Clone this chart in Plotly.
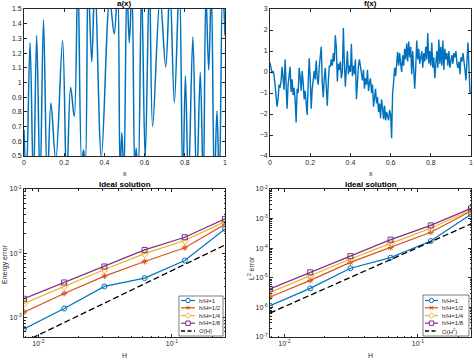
import numpy as np
import plotly.graph_objects as go

W, HGT = 474, 360
FONT = "Liberation Sans, Arial, sans-serif"
AX = "#262626"
C1, C2, C3, C4 = "#0072BD", "#D95319", "#EDB120", "#7E2F8E"
DASH = "6px,3px"

# ---------------- data ----------------
# a(x): local extrema (curve is clipped by the axis range)
a_x = [0.0, 0.012, 0.03, 0.047, 0.063, 0.08, 0.097, 0.116, 0.134, 0.158,
       0.192, 0.212, 0.232, 0.25, 0.268, 0.287, 0.296, 0.305, 0.319, 0.337,
       0.353, 0.385, 0.426, 0.449, 0.466, 0.478, 0.487, 0.497, 0.512, 0.524,
       0.537, 0.551, 0.558, 0.568, 0.585, 0.603, 0.624, 0.64, 0.677, 0.705,
       0.726, 0.748, 0.773, 0.79, 0.803, 0.818, 0.84, 0.859, 0.877, 0.892,
       0.905, 0.919, 0.932, 0.947, 0.96, 0.972, 0.988, 1.0]
a_y = [0.68, 0.35, 1.27, 0.3, 1.32, 0.3, 1.425, 0.3, 0.86, 0.47,
       1.285, 0.3, 0.967, 0.768, 1.75, 0.45, 0.54, 0.45, 1.7, 1.14,
       1.7, 0.49, 1.56, 1.33, 1.65, 0.4, 0.66, 0.35, 1.65, 1.27,
       1.65, 0.4, 0.555, 0.35, 1.65, 0.48, 1.7, 0.70, 1.58, 1.105,
       1.65, 0.863, 1.7, 0.3, 1.044, 0.3, 1.31, 0.3, 1.07, 0.3,
       1.6, 1.085, 1.65, 0.3, 0.806, 0.3, 1.65, 1.32]

# f(x): values read at steps of 0.005
f_y = [0.45, 0.2, -0.05, 0.05, -0.15, -0.6, -1.2, -1.65, -1.3, -0.6,
       -0.75, -0.45, 0.25, -0.3, -0.85, 0.6, -0.4, -1.75, -0.6, -0.1,
       0.25, -0.95, -0.35, -1.1, -0.75, -1.3, -2.4, -0.8, -1.0, 0.2,
       -0.2, -0.9, 0.05, -0.5, -1.3, -0.9, -1.55, -2.05, -0.6, 0.65,
       -0.3, -1.75, -0.8, -0.2, 0.05, -0.35, 0.55, -0.3, -0.6, 0.25,
       0.6, 1.2, -0.5, -1.2, -0.3, 0.2, -0.7, -1.6, -0.5, 0.3,
       0.25, 0.6, 0.3, 0.9, 0.5, 1.75, 1.2, -0.45, 0.4, 0.1,
       0.5, -0.3, 0.0, 2.1, 0.4, -0.7, 0.2, 1.0, -0.1, 0.3,
       0.0, 1.35, -0.2, 0.3, -0.1, 0.6, -1.3, -0.2, 0.3, 0.6,
       0.2, 0.0, -0.4, 0.1, -0.8, -0.3, -0.6, 0.1, -0.9, -0.5,
       -0.3, -1.0, -0.6, -1.65, -1.1, -0.8, -1.5, -1.2, -1.9, -1.5,
       -2.2, -1.3, -1.7, -2.25, -1.6, -2.3, -1.9, -2.1, -2.3, -1.8,
       -2.0, -3.15, -1.0, -0.5, 0.2, -0.2, 0.6, 0.95, 0.3, 0.9,
       0.4, 0.0, 0.8, 0.3, 1.1, 0.6, 1.35, 0.5, 1.45, 0.7,
       1.2, -0.1, 1.0, 0.3, -0.8, 0.2, 1.5, 0.6, 1.1, 0.4,
       0.8, 1.0, 0.2, 0.9, 0.5, 1.2, 0.6, 1.85, 0.4, 1.0,
       0.3, 1.4, 0.2, 0.7, -0.3, 0.6, 1.0, 0.2, 1.55, 0.4,
       1.2, 0.3, 1.5, 0.1, 1.1, 0.6, 0.9, 0.3, 1.0, 0.2,
       0.6, 0.8, 0.4, 0.9, 0.7, 1.0, 0.4, 0.2, 0.5, -0.1,
       0.7, 0.5, 0.9, 0.3, 0.1, -0.4, 0.3, 1.4, 0.2, -1.0,
       -1.0]
f_x = np.linspace(0, 1, len(f_y))

H_vals = [1/128, 1/64, 1/32, 1/16, 1/8, 1/4]
labels = ["h/H=1", "h/H=1/2", "h/H=1/4", "h/H=1/8"]

e1 = [6.7e-4, 1.39e-3, 3.06e-3, 4.12e-3, 7.75e-3, 0.024]
e2 = [1.22e-3, 2.38e-3, 4.43e-3, 7.47e-3, 0.0122, 0.0283]
e4 = [1.67e-3, 3.1e-3, 5.6e-3, 9.9e-3, 0.0158, 0.0311]
e8 = [1.97e-3, 3.53e-3, 6.25e-3, 0.0113, 0.0178, 0.0343]
e_ref = [4.2e-4, 8.4e-4, 1.69e-3, 3.38e-3, 6.75e-3, 0.0135]

l1 = [1.14e-6, 4.4e-6, 2.1e-5, 4.8e-5, 1.75e-4, 1.4e-3]
l2 = [2.24e-6, 8.2e-6, 3.33e-5, 1.05e-4, 3.44e-4, 1.81e-3]
l4 = [3.2e-6, 1.17e-5, 4.3e-5, 1.46e-4, 4.7e-4, 2.0e-3]
l8 = [4.2e-6, 1.53e-5, 5.4e-5, 1.94e-4, 5.9e-4, 2.22e-3]
l_ref = [6.45e-7, 2.58e-6, 1.03e-5, 4.13e-5, 1.65e-4, 6.6e-4]

# ---------------- helpers ----------------
def px(x):
    return x / W

def py(y):
    return 1 - y / HGT

fig = go.Figure()

# top plots
fig.add_trace(go.Scatter(x=a_x, y=a_y, mode="lines", line=dict(color=C1, width=1.5, shape="spline", smoothing=1.0),
                         xaxis="x", yaxis="y", showlegend=False))
fig.add_trace(go.Scatter(x=f_x, y=f_y, mode="lines", line=dict(color=C1, width=1.4),
                         xaxis="x2", yaxis="y2", showlegend=False))

styles = [(C1, "circle-open", 5), (C2, "asterisk-open", 5), (C3, "diamond-open", 6), (C4, "square-open", 5)]
for series, (c, sym, sz) in zip([e1, e2, e4, e8], styles):
    fig.add_trace(go.Scatter(x=H_vals, y=series, mode="lines+markers",
                             line=dict(color=c, width=1.2), marker=dict(symbol=sym, size=sz, color=c, line=dict(width=1, color=c)),
                             xaxis="x3", yaxis="y3", showlegend=False))
fig.add_trace(go.Scatter(x=H_vals, y=e_ref, mode="lines", line=dict(color="black", width=1.3, dash=DASH),
                         xaxis="x3", yaxis="y3", showlegend=False))
for series, (c, sym, sz) in zip([l1, l2, l4, l8], styles):
    fig.add_trace(go.Scatter(x=H_vals, y=series, mode="lines+markers",
                             line=dict(color=c, width=1.2), marker=dict(symbol=sym, size=sz, color=c, line=dict(width=1, color=c)),
                             xaxis="x4", yaxis="y4", showlegend=False))
fig.add_trace(go.Scatter(x=H_vals, y=l_ref, mode="lines", line=dict(color="black", width=1.3, dash=DASH),
                         xaxis="x4", yaxis="y4", showlegend=False))

common = dict(showline=True, linecolor=AX, linewidth=0.8, mirror="ticks", ticks="inside", ticklen=3,
              tickcolor=AX, tickwidth=0.6, showgrid=False, zeroline=False, automargin=False,
              tickfont=dict(size=7, color=AX, family=FONT))

dom_xl = [px(24), px(225)]
dom_xr = [px(270), px(471)]
dom_yt = [py(156), py(9)]
dom_yb = [py(337), py(189)]

lin01 = [0, 0.2, 0.4, 0.6, 0.8, 1]
lin01t = ["0", "0.2", "0.4", "0.6", "0.8", "1"]
a_ticks = [0.5, 0.6, 0.7, 0.8, 0.9, 1.0, 1.1, 1.2, 1.3, 1.4, 1.5]
a_tickt = ["0.5", "0.6", "0.7", "0.8", "0.9", "1", "1.1", "1.2", "1.3", "1.4", "1.5"]
f_ticks = [-4, -3, -2, -1, 0, 1, 2, 3]

def minor_vals(lo_exp, hi_exp):
    out = []
    for e in range(lo_exp, hi_exp + 1):
        for d in range(2, 10):
            out.append(d * 10.0 ** e)
    return out

xr_log = [np.log10(1/128), np.log10(1/4)]
fig.update_layout(
    xaxis=dict(common, domain=dom_xl, anchor="y", range=[0, 1], tickvals=lin01, ticktext=lin01t),
    yaxis=dict(common, domain=dom_yt, anchor="x", range=[0.5, 1.5], tickvals=a_ticks, ticktext=a_tickt),
    xaxis2=dict(common, domain=dom_xr, anchor="y2", range=[0, 1], tickvals=lin01, ticktext=lin01t),
    yaxis2=dict(common, domain=dom_yt, anchor="x2", range=[-4, 3], tickvals=f_ticks),
    xaxis3=dict(common, domain=dom_xl, anchor="y3", type="log", range=xr_log,
                tickvals=[0.01, 0.1], ticktext=["10<sup>-2</sup>", "10<sup>-1</sup>"],
                minor=dict(ticks="inside", ticklen=1.6, tickcolor=AX, tickmode="array", tickvals=minor_vals(-3, -1))),
    yaxis3=dict(common, domain=dom_yb, anchor="x3", type="log", range=[-3.3, -1],
                tickvals=[1e-3, 1e-2, 1e-1], ticktext=["10<sup>-3</sup>", "10<sup>-2</sup>", "10<sup>-1</sup>"],
                minor=dict(ticks="inside", ticklen=1.6, tickcolor=AX, tickmode="array", tickvals=minor_vals(-4, -2))),
    xaxis4=dict(common, domain=dom_xr, anchor="y4", type="log", range=xr_log,
                tickvals=[0.01, 0.1], ticktext=["10<sup>-2</sup>", "10<sup>-1</sup>"],
                minor=dict(ticks="inside", ticklen=1.6, tickcolor=AX, tickmode="array", tickvals=minor_vals(-3, -1))),
    yaxis4=dict(common, domain=dom_yb, anchor="x4", type="log", range=[-7, -2],
                tickvals=[1e-7, 1e-6, 1e-5, 1e-4, 1e-3, 1e-2],
                ticktext=["10<sup>-7</sup>", "10<sup>-6</sup>", "10<sup>-5</sup>", "10<sup>-4</sup>", "10<sup>-3</sup>", "10<sup>-2</sup>"],
                minor=dict(ticks="inside", ticklen=1.6, tickcolor=AX, tickmode="array", tickvals=minor_vals(-7, -3))),
)

ann = []
def text(x, y, s, size=7, bold=False, angle=0, xanchor="center"):
    ann.append(dict(x=px(x), y=py(y), xref="paper", yref="paper", text=("<b>%s</b>" % s) if bold else s,
                    showarrow=False, textangle=angle, xanchor=xanchor, yanchor="middle",
                    font=dict(size=size, color="black" if bold else AX, family=FONT)))

text(124.5, 4, "a(x)", 8, True)
text(370.5, 4, "f(x)", 8, True)
text(124.5, 185, "Ideal solution", 8, True)
text(370.5, 185, "Ideal solution", 8, True)
text(124.5, 173, "x")
text(370.5, 173, "x")
text(124.5, 355, "H")
text(370.5, 355, "H")
text(5, 264, "Energy error", 7, angle=-90)
text(251, 268, "L<sup>2</sup> error", 7, angle=-90)

shapes = []
def legend(x0, y0, x1, y1, lx0, lx1, tx, ys, names):
    shapes.append(dict(type="rect", xref="paper", yref="paper", x0=px(x0), x1=px(x1), y0=py(y0), y1=py(y1),
                       fillcolor="white", line=dict(color=AX, width=0.6)))
    mx = (lx0 + lx1) / 2
    cols = [C1, C2, C3, C4, "black"]
    for i, (yy, nm) in enumerate(zip(ys, names)):
        c = cols[i]
        shapes.append(dict(type="line", xref="paper", yref="paper", x0=px(lx0), x1=px(lx1), y0=py(yy), y1=py(yy),
                           line=dict(color=c, width=1.2 if i < 4 else 1.3, dash="solid" if i < 4 else "4px,2.5px")))
        r = 2.2
        if i == 0:
            shapes.append(dict(type="circle", xref="paper", yref="paper", x0=px(mx - r), x1=px(mx + r),
                               y0=py(yy + r), y1=py(yy - r), line=dict(color=c, width=1), fillcolor="white"))
        elif i == 1:
            for (dx, dy) in [(r, 0), (r * 0.6, r * 0.8), (r * 0.6, -r * 0.8)]:
                shapes.append(dict(type="line", xref="paper", yref="paper", x0=px(mx - dx), x1=px(mx + dx),
                                   y0=py(yy - dy), y1=py(yy + dy), line=dict(color=c, width=0.9)))
        elif i == 2:
            path = "M %f %f L %f %f L %f %f L %f %f Z" % (px(mx - 2.8), py(yy), px(mx), py(yy - 2.8),
                                                          px(mx + 2.8), py(yy), px(mx), py(yy + 2.8))
            shapes.append(dict(type="path", xref="paper", yref="paper", path=path, line=dict(color=c, width=1),
                               fillcolor="white"))
        elif i == 3:
            shapes.append(dict(type="rect", xref="paper", yref="paper", x0=px(mx - r), x1=px(mx + r),
                               y0=py(yy + r), y1=py(yy - r), line=dict(color=c, width=1), fillcolor="white"))
        text(tx, yy, nm, 6, xanchor="left")

ys_l = [300.5, 307.8, 315.6, 323.2, 331.0]
legend(179, 296, 223, 336, 181, 195, 196.5, ys_l, labels + ["O(H)"])
legend(423, 295, 469, 336, 425, 438, 439.5, ys_l, labels + ["O(H<sup>2</sup>)"])

fig.update_layout(annotations=ann, shapes=shapes, width=W, height=HGT, template="none",
                  margin=dict(l=0, r=0, t=0, b=0), paper_bgcolor="white", plot_bgcolor="white",
                  showlegend=False, font=dict(family=FONT, color=AX))

fig.write_html("out.html", config={"displayModeBar": False},
               post_script="document.body.style.margin='0';document.body.style.overflow='hidden';")
